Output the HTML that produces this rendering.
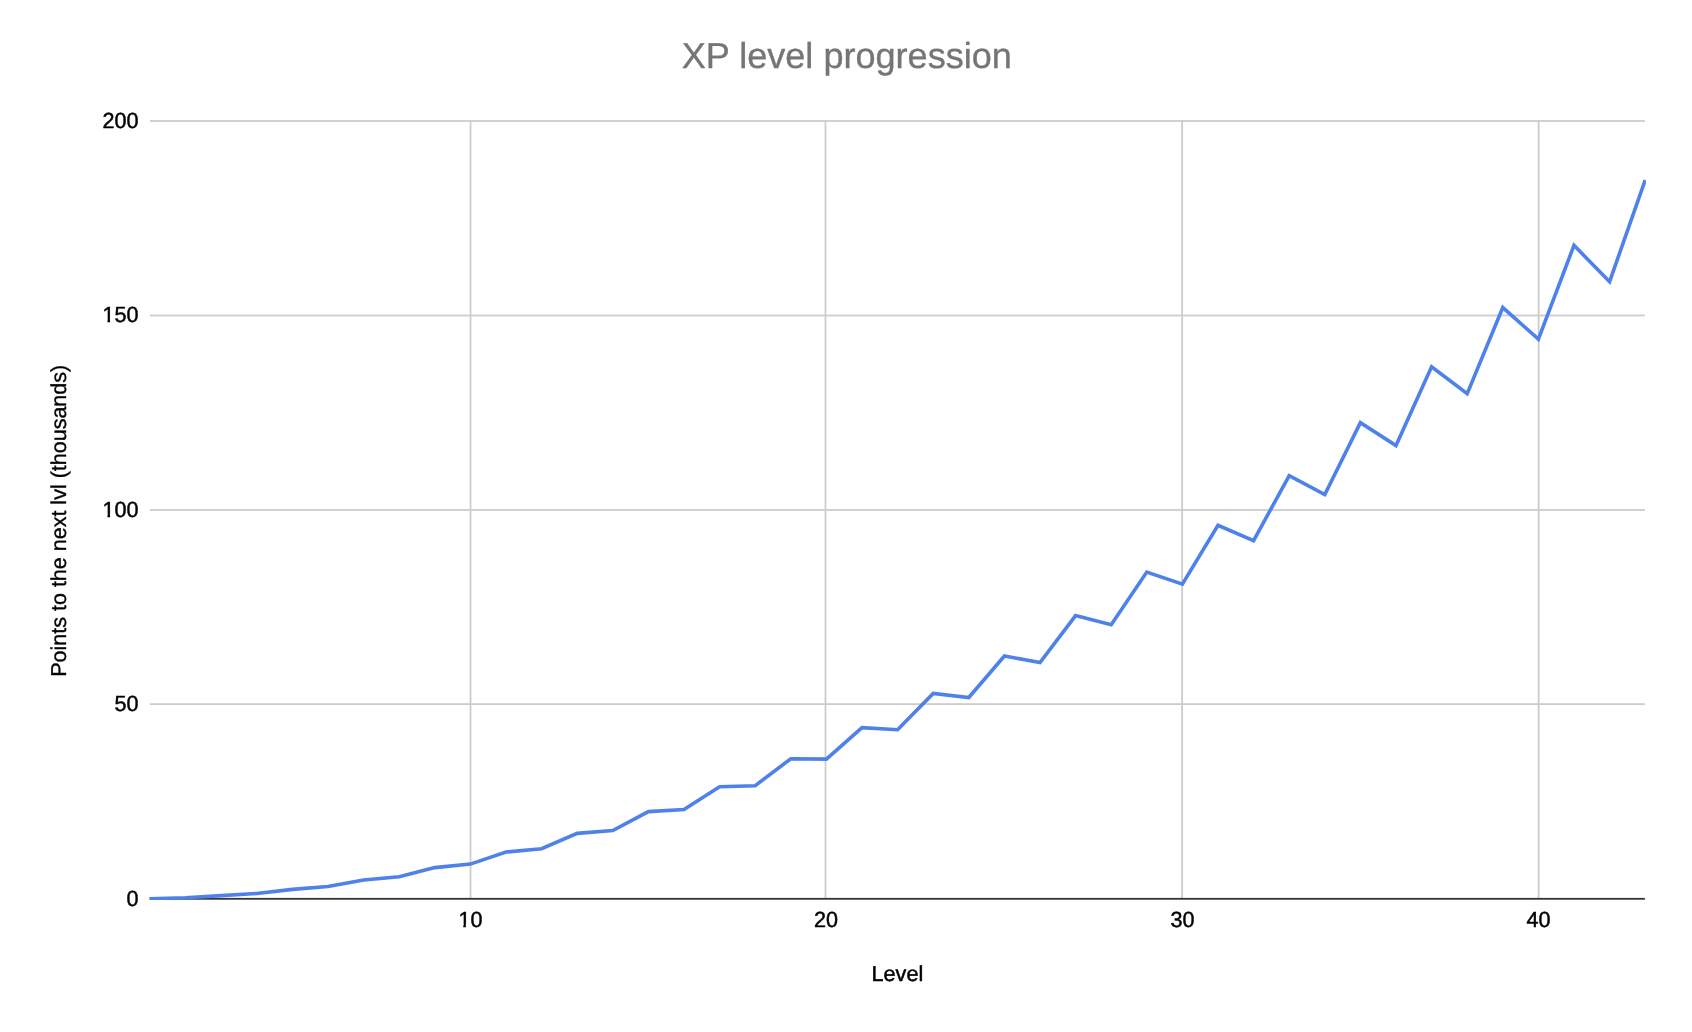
<!DOCTYPE html>
<html><head><meta charset="utf-8"><title>XP level progression</title>
<style>
html,body{margin:0;padding:0;background:#fff;}
body{width:1692px;height:1032px;overflow:hidden;font-family:"Liberation Sans",sans-serif;}
svg{display:block;will-change:transform;opacity:0.999;}
text{font-family:"Liberation Sans",sans-serif;text-rendering:geometricPrecision;}
</style></head><body>
<svg width="1692" height="1032" viewBox="0 0 1692 1032">
<rect width="1692" height="1032" fill="#ffffff"/>
<text x="846.8" y="68" text-anchor="middle" font-size="36.1" fill="#757575" stroke="#757575" stroke-width="0.35">XP level progression</text>
<g fill="#cccccc">
<rect x="150.0" y="120.1" width="1494.9" height="1.8"/>
<rect x="150.0" y="314.6" width="1494.9" height="1.8"/>
<rect x="150.0" y="509.1" width="1494.9" height="1.8"/>
<rect x="150.0" y="703.2" width="1494.9" height="1.8"/>
<rect x="469.6" y="120.1" width="1.8" height="778"/>
<rect x="824.6" y="120.1" width="1.8" height="778"/>
<rect x="1181.2" y="120.1" width="1.8" height="778"/>
<rect x="1537.7" y="120.1" width="1.8" height="778"/>
</g>
<rect x="150.0" y="897.9" width="1494.9" height="1.8" fill="#333333"/>
<clipPath id="c"><rect x="149" y="100" width="1496.9" height="799.9"/></clipPath>
<path clip-path="url(#c)" d="M149.40,898.71 L185.60,897.70 L221.20,895.60 L256.80,893.50 L292.40,889.38 L328.00,886.50 L363.60,880.04 L399.20,876.70 L434.80,867.60 L470.40,864.10 L506.00,852.04 L541.60,848.70 L577.20,833.38 L612.80,830.50 L648.40,811.60 L684.00,809.50 L719.60,786.71 L755.20,785.70 L790.80,758.71 L826.40,759.10 L862.00,727.60 L897.60,729.70 L933.20,693.37 L968.80,697.49 L1004.40,656.04 L1040.00,662.49 L1075.60,615.59 L1111.20,624.69 L1146.80,572.04 L1182.40,584.09 L1218.00,525.37 L1253.60,540.69 L1289.20,475.59 L1324.80,494.49 L1360.40,422.70 L1396.00,445.49 L1431.60,366.70 L1467.20,393.69 L1502.80,307.58 L1538.40,339.08 L1574.00,245.36 L1609.60,281.68 L1645.20,180.02" fill="none" stroke="#4e81ea" stroke-width="3.6" stroke-linejoin="miter" stroke-linecap="butt"/>
<g font-size="21.6" fill="#000000" stroke="#000000" stroke-width="0.45">
<text transform="translate(138.6,127.7) scale(1,1.012)" text-anchor="end">200</text>
<text transform="translate(138.6,321.8) scale(1,1.012)" text-anchor="end">150</text>
<text transform="translate(138.6,516.8) scale(1,1.012)" text-anchor="end">100</text>
<text transform="translate(138.6,710.8) scale(1,1.012)" text-anchor="end">50</text>
<text transform="translate(138.6,905.5) scale(1,1.012)" text-anchor="end">0</text>
<text transform="translate(470.4,927.0) scale(1,1.012)" text-anchor="middle">10</text>
<text transform="translate(826.1,927.0) scale(1,1.012)" text-anchor="middle">20</text>
<text transform="translate(1182.4,927.0) scale(1,1.012)" text-anchor="middle">30</text>
<text transform="translate(1538.4,927.0) scale(1,1.012)" text-anchor="middle">40</text>
<text x="897.4" y="981" text-anchor="middle" stroke-width="0.5">Level</text>
<text transform="translate(65.5,520.8) rotate(-90)" text-anchor="middle" stroke-width="0.35" font-size="21.5">Points to the next lvl (thousands)</text>
</g>
<g fill="#ffffff"><rect x="102.50" y="514.45" width="4.95" height="3.6"/><rect x="110.05" y="514.45" width="4.5" height="3.6"/><rect x="102.50" y="319.45" width="4.95" height="3.6"/><rect x="110.05" y="319.45" width="4.5" height="3.6"/><rect x="458.30" y="924.65" width="4.95" height="3.6"/><rect x="465.85" y="924.65" width="4.5" height="3.6"/></g>
</svg>
</body></html>
